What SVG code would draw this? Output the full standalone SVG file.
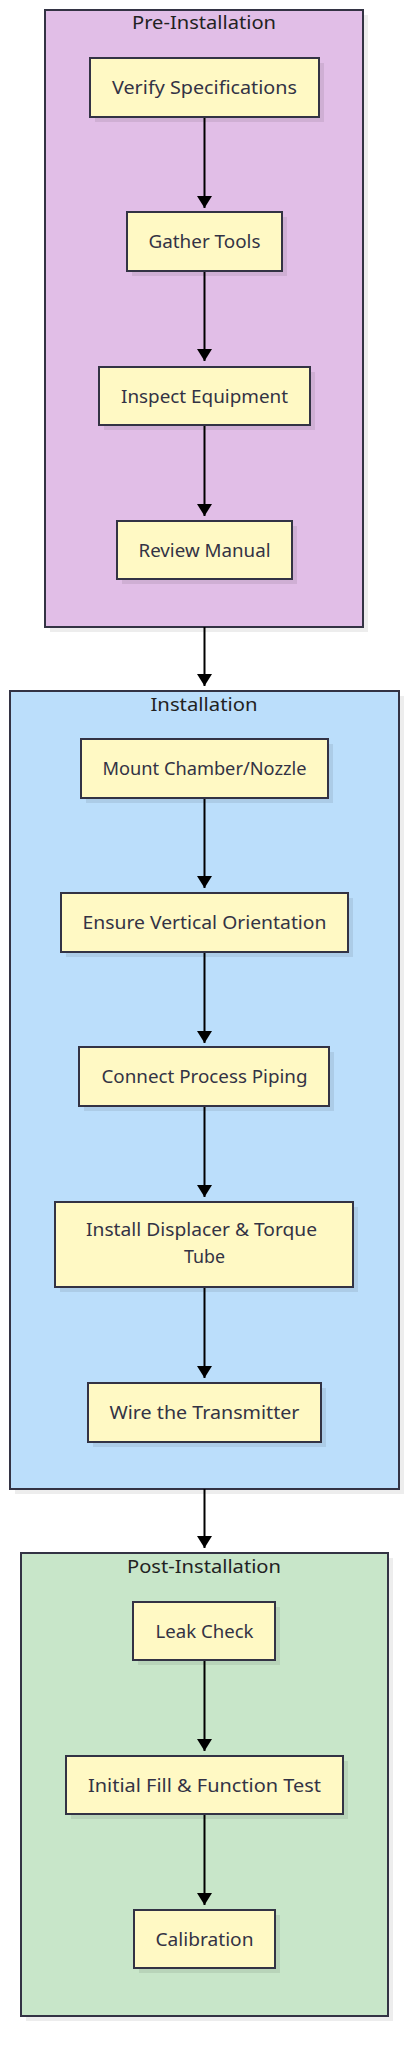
<svg xmlns="http://www.w3.org/2000/svg" width="413" height="2048" viewBox="0 0 413 2048">
<defs>
<style>
.cl{stroke:#333344;stroke-width:2}
.csh{fill:#000;opacity:0.07}
.nd{fill:#FFF9C4;stroke:#333344;stroke-width:2}
.nsh{fill:#000;opacity:0.08}
.t{font-family:"Noto Sans","Open Sans",sans-serif;font-size:18px;fill:#333344;text-anchor:middle}
.ct{font-family:"Noto Sans","Open Sans",sans-serif;font-size:18px;fill:#222;text-anchor:middle}
.e{stroke:#000;stroke-width:2;fill:none;marker-end:url(#ah)}
</style>
<marker id="ah" viewBox="0 0 8 10" refX="8" refY="5" markerWidth="6" markerHeight="7.5" markerUnits="strokeWidth" orient="auto">
<path d="M0,0 L8,5 L0,10 Z" fill="#000"/>
</marker>
</defs>
<rect width="413" height="2048" fill="#fff"/>
<g id="cluster-pre">
<rect class="csh" x="50" y="15" width="318" height="617"/>
<rect class="cl" x="45" y="10" width="318" height="617" fill="#E1BEE7"/>
<text class="ct" x="204" y="29" textLength="144" lengthAdjust="spacingAndGlyphs">Pre-Installation</text>
</g>
<g id="cluster-install">
<rect class="csh" x="15" y="696" width="389" height="798"/>
<rect class="cl" x="10" y="691" width="389" height="798" fill="#BBDEFB"/>
<text class="ct" x="204" y="711" textLength="107" lengthAdjust="spacingAndGlyphs">Installation</text>
</g>
<g id="cluster-post">
<rect class="csh" x="26" y="1558" width="367" height="463"/>
<rect class="cl" x="21" y="1553" width="367" height="463" fill="#C8E6C9"/>
<text class="ct" x="204" y="1573" textLength="154" lengthAdjust="spacingAndGlyphs">Post-Installation</text>
</g>
<g id="connectors">
<line class="e" x1="204.5" y1="117" x2="204.5" y2="208"/>
<line class="e" x1="204.5" y1="271" x2="204.5" y2="361"/>
<line class="e" x1="204.5" y1="425" x2="204.5" y2="516"/>
<line class="e" x1="204.5" y1="627" x2="204.5" y2="686"/>
<line class="e" x1="204.5" y1="798" x2="204.5" y2="888"/>
<line class="e" x1="204.5" y1="952" x2="204.5" y2="1043"/>
<line class="e" x1="204.5" y1="1106" x2="204.5" y2="1197"/>
<line class="e" x1="204.5" y1="1287" x2="204.5" y2="1378"/>
<line class="e" x1="204.5" y1="1489" x2="204.5" y2="1548"/>
<line class="e" x1="204.5" y1="1660" x2="204.5" y2="1751"/>
<line class="e" x1="204.5" y1="1814" x2="204.5" y2="1905"/>
</g>
<g id="n-verify">
<rect class="nsh" x="95" y="63" width="229" height="59"/>
<rect class="nd" x="90" y="58" width="229" height="59"/>
<text class="t" x="204.5" y="94" textLength="185" lengthAdjust="spacingAndGlyphs">Verify Specifications</text>
</g>
<g id="n-gather">
<rect class="nsh" x="132" y="217" width="155" height="59"/>
<rect class="nd" x="127" y="212" width="155" height="59"/>
<text class="t" x="204.5" y="248" textLength="112" lengthAdjust="spacingAndGlyphs">Gather Tools</text>
</g>
<g id="n-inspect">
<rect class="nsh" x="104" y="372" width="211" height="58"/>
<rect class="nd" x="99" y="367" width="211" height="58"/>
<text class="t" x="204.5" y="402.5" textLength="167" lengthAdjust="spacingAndGlyphs">Inspect Equipment</text>
</g>
<g id="n-review">
<rect class="nsh" x="122" y="526" width="175" height="58"/>
<rect class="nd" x="117" y="521" width="175" height="58"/>
<text class="t" x="204.5" y="556.5" textLength="132" lengthAdjust="spacingAndGlyphs">Review Manual</text>
</g>
<g id="n-mount">
<rect class="nsh" x="86" y="744" width="247" height="59"/>
<rect class="nd" x="81" y="739" width="247" height="59"/>
<text class="t" x="204.5" y="775" textLength="204" lengthAdjust="spacingAndGlyphs">Mount Chamber/Nozzle</text>
</g>
<g id="n-ensure">
<rect class="nsh" x="66" y="898" width="287" height="59"/>
<rect class="nd" x="61" y="893" width="287" height="59"/>
<text class="t" x="204.5" y="929" textLength="244" lengthAdjust="spacingAndGlyphs">Ensure Vertical Orientation</text>
</g>
<g id="n-connect">
<rect class="nsh" x="84" y="1052" width="250" height="59"/>
<rect class="nd" x="79" y="1047" width="250" height="59"/>
<text class="t" x="204.5" y="1083" textLength="206" lengthAdjust="spacingAndGlyphs">Connect Process Piping</text>
</g>
<g id="n-displacer">
<rect class="nsh" x="60" y="1207" width="298" height="85"/>
<rect class="nd" x="55" y="1202" width="298" height="85"/>
<text class="t" x="201.5" y="1236" textLength="231" lengthAdjust="spacingAndGlyphs">Install Displacer &amp; Torque</text>
<text class="t" x="204.5" y="1263" textLength="41" lengthAdjust="spacingAndGlyphs">Tube</text>
</g>
<g id="n-wire">
<rect class="nsh" x="93" y="1388" width="233" height="59"/>
<rect class="nd" x="88" y="1383" width="233" height="59"/>
<text class="t" x="204.5" y="1419" textLength="190" lengthAdjust="spacingAndGlyphs">Wire the Transmitter</text>
</g>
<g id="n-leak">
<rect class="nsh" x="138" y="1607" width="142" height="58"/>
<rect class="nd" x="133" y="1602" width="142" height="58"/>
<text class="t" x="204.5" y="1637.5" textLength="98" lengthAdjust="spacingAndGlyphs">Leak Check</text>
</g>
<g id="n-fill">
<rect class="nsh" x="71" y="1761" width="277" height="58"/>
<rect class="nd" x="66" y="1756" width="277" height="58"/>
<text class="t" x="204.5" y="1791.5" textLength="233" lengthAdjust="spacingAndGlyphs">Initial Fill &amp; Function Test</text>
</g>
<g id="n-cal">
<rect class="nsh" x="139" y="1915" width="141" height="58"/>
<rect class="nd" x="134" y="1910" width="141" height="58"/>
<text class="t" x="204.5" y="1945.5" textLength="98" lengthAdjust="spacingAndGlyphs">Calibration</text>
</g>
</svg>
